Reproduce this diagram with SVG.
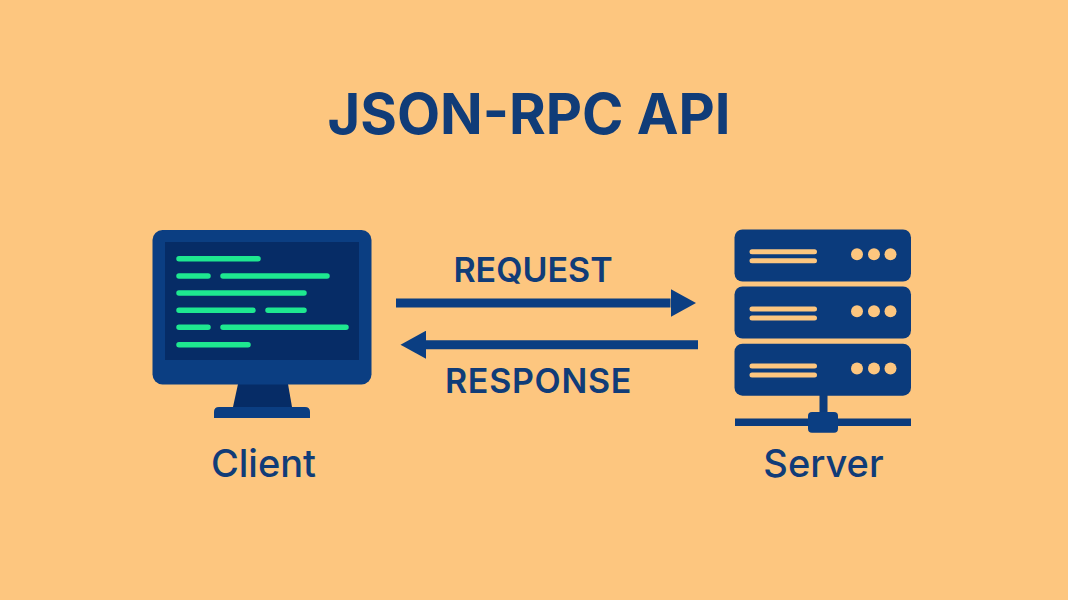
<svg xmlns="http://www.w3.org/2000/svg" width="1068" height="600" viewBox="0 0 1068 600">
<style>
.t{font-family:"Inter","Liberation Sans",sans-serif;fill:#103c78;text-anchor:middle}
.title{font-size:56px;font-weight:700}
.lab{font-size:34px;font-weight:600}
.name{font-size:38px;font-weight:500}
.code{stroke:#1ee890;stroke-width:5.5;stroke-linecap:round;fill:none}
.rack{fill:#0b3b7c}
.slot{stroke:#fdc67f;stroke-width:5;stroke-linecap:round;fill:none}
.led{fill:#fdc67f}
.wire{stroke:#0b3e82;stroke-width:9;fill:none}
</style>
<defs>
<marker id="head" markerUnits="userSpaceOnUse" markerWidth="26" markerHeight="28" refX="0" refY="14" orient="auto-start-reverse">
<path d="M0 0L25.500 14L0 28Z" fill="#0b3e82"/>
</marker>
</defs>
<rect width="1068" height="600" fill="#fdc67f"/>
<text class="t title" x="529" y="134">JSON-RPC API</text>
<g id="client">
<path d="M238 384H288L292 407H233Z" fill="#062c66"/>
<path d="M214 418V412Q214 407 219 407H305Q310 407 310 412V418Z" fill="#0b3e82"/>
<rect x="152.500" y="230" width="219" height="154.500" rx="10" fill="#0b3e82"/>
<rect x="165" y="242" width="194" height="118" fill="#062c66"/>
<path class="code" d="M179 258.700H258M179 276H208M223 276H327M179 293H304M179 310.300H253M268 310.300H304M179 327.300H208M223 327.300H346M179 344.700H248"/>
<text class="t name" x="263.500" y="477">Client</text>
</g>
<g id="server">
<rect class="rack" x="734.500" y="229.500" width="176.500" height="52" rx="8"/>
<rect class="rack" x="734.500" y="286.500" width="176.500" height="52" rx="8"/>
<rect class="rack" x="734.500" y="343.700" width="176.500" height="52" rx="8"/>
<path class="slot" d="M752 251.700H814.500M752 260.700H814.500M752 309H814.500M752 318H814.500M752 366H814.500M752 375H814.500"/>
<g class="led">
<circle cx="857" cy="254.300" r="6"/><circle cx="874" cy="254.300" r="6"/><circle cx="890.500" cy="254.300" r="6"/>
<circle cx="857" cy="311.300" r="6"/><circle cx="874" cy="311.300" r="6"/><circle cx="890.500" cy="311.300" r="6"/>
<circle cx="857" cy="368.500" r="6"/><circle cx="874" cy="368.500" r="6"/><circle cx="890.500" cy="368.500" r="6"/>
</g>
<rect class="rack" x="819.500" y="395" width="8" height="18"/>
<rect class="rack" x="735" y="418.500" width="176" height="7.500"/>
<rect x="808" y="412" width="30" height="20.700" rx="4" fill="#0b3e82"/>
<text class="t name" x="823.500" y="477">Server</text>
</g>
<g id="connectors">
<path class="wire" d="M396 303H670.500" marker-end="url(#head)"/>
<path class="wire" d="M698 344.700H426" marker-end="url(#head)"/>
</g>
<text class="t lab" x="533" y="282">REQUEST</text>
<text class="t lab" x="538.500" y="393" letter-spacing="0.700">RESPONSE</text>
</svg>
